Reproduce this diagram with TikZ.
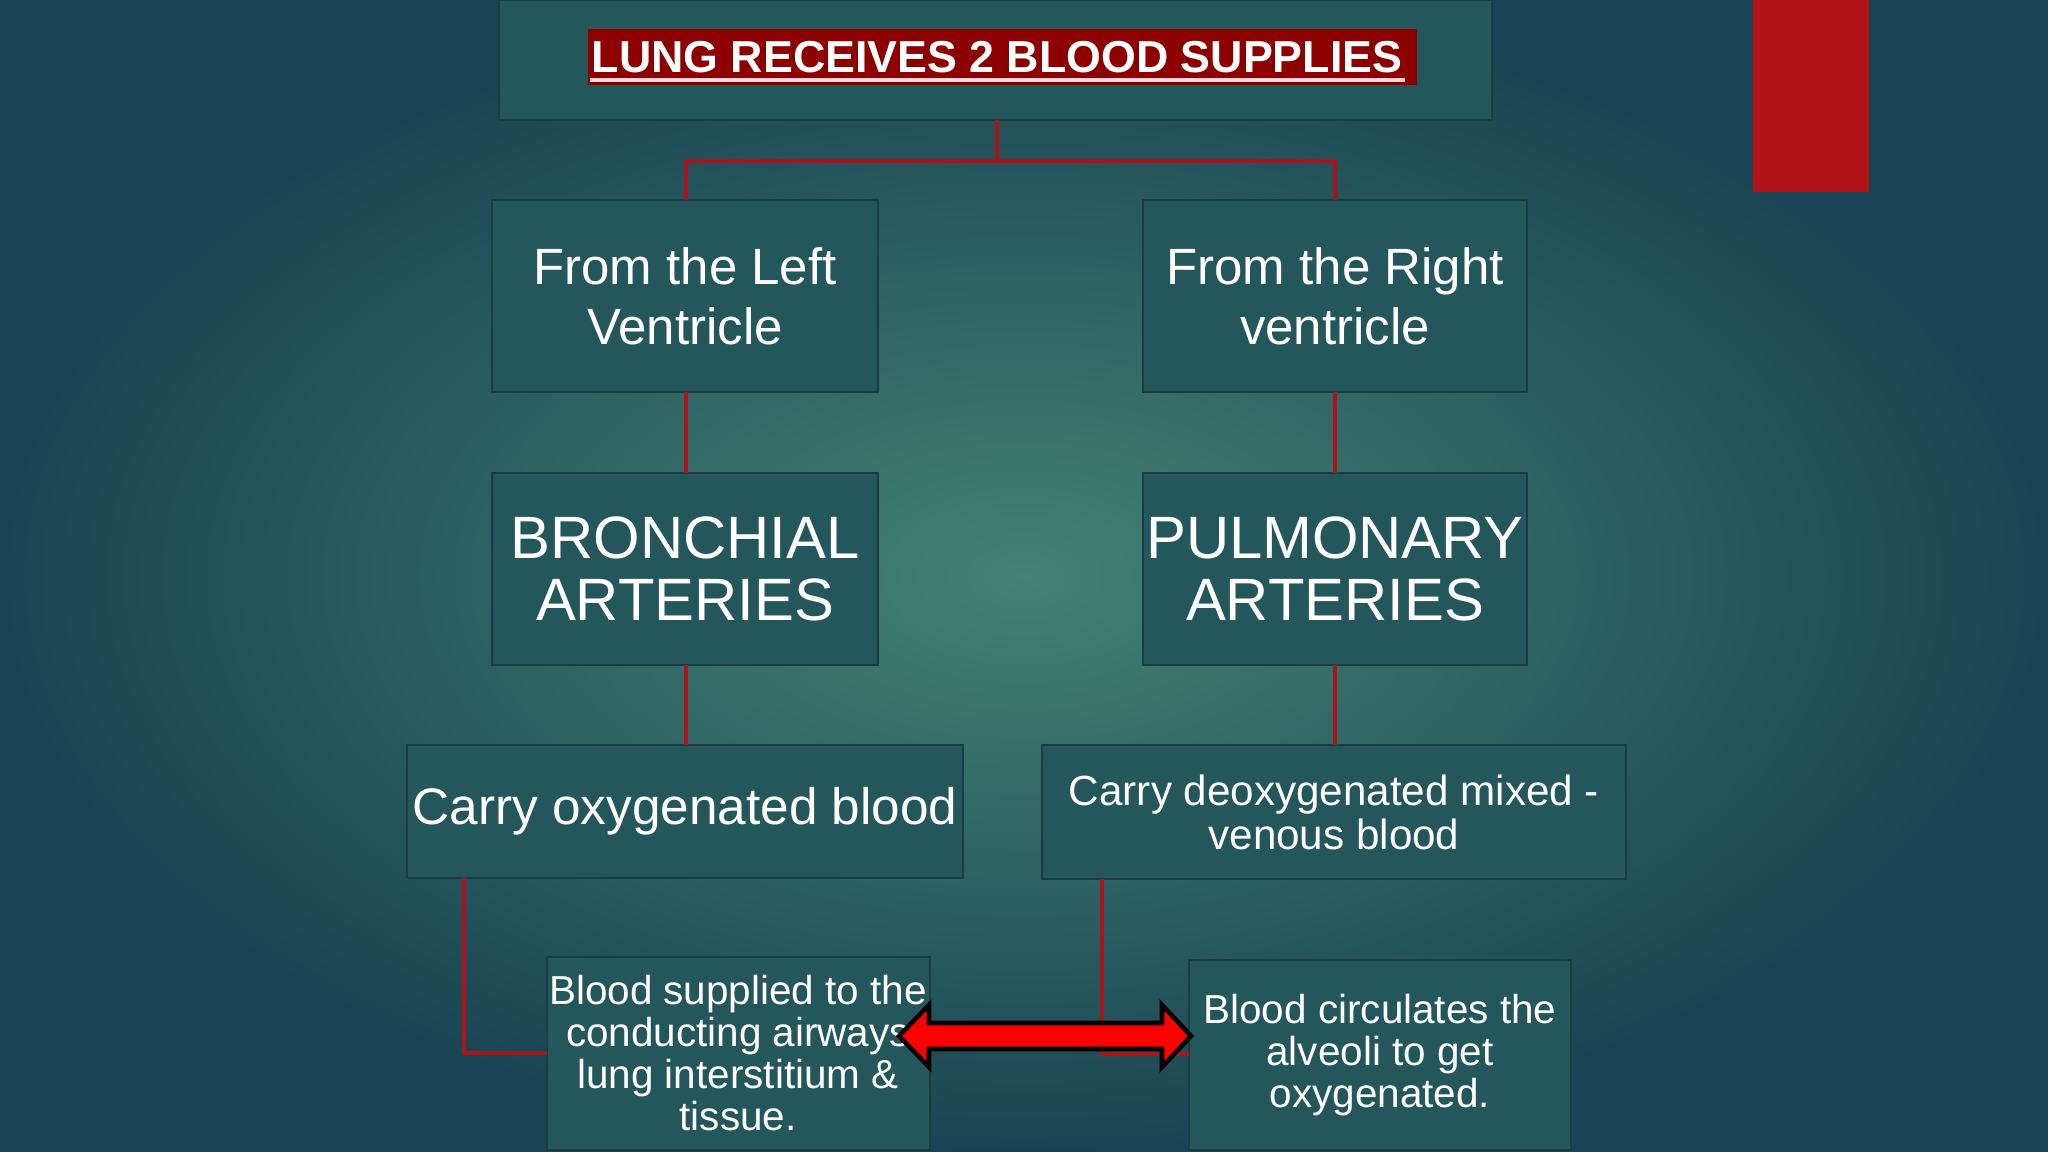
\documentclass[tikz,border=0pt]{standalone}
\usepackage{fontspec}
\setmainfont{Liberation Sans}
\definecolor{bgin}{HTML}{438274}
\definecolor{bgout}{HTML}{1A4453}
\definecolor{boxf}{HTML}{24575B}
\definecolor{boxd}{HTML}{1A3C42}
\definecolor{lnred}{HTML}{A8161B}
\begin{document}
\begin{tikzpicture}[x=0.01cm,y=-0.01cm,
  bx/.style={draw=boxd,fill=boxf,line width=0.6pt},
  tx/.style={text=white,align=center,inner sep=0pt},
  ln/.style={draw=lnred,line width=1.2pt}]
\useasboundingbox (0,0) rectangle (2048,1152);
\shade[inner color=bgin,outer color=bgout] (0,0) rectangle (2048,1152);
\fill[lnred!90!red] (1753,0) rectangle (1869,192);
% boxes
\draw[bx] (499,0) rectangle (1492,120);
\draw[bx] (492,200) rectangle (878,392);
\draw[bx] (1143,200) rectangle (1527,392);
\draw[bx] (492,473) rectangle (878,665);
\draw[bx] (1143,473) rectangle (1527,665);
\draw[bx] (407,745) rectangle (963,878);
\draw[bx] (1042,745) rectangle (1626,879);
\draw[bx] (547,957) rectangle (930,1150);
\draw[bx] (1189,960) rectangle (1571,1150);
% nodes
\fill[red!55!black] (588,29) rectangle (1417,85);
\node[tx,font=\bfseries\fontsize{12.5}{14}\selectfont] (title) at (997,57) {\resizebox{8.1cm}{!}{LUNG RECEIVES 2 BLOOD SUPPLIES}};
\fill[white!85!red] (590,78) rectangle (1405,82);
\coordinate (tb) at (997,120);
\node[tx,font=\fontsize{14.5}{17}\selectfont] (l1) at (685,296) {From the Left\\Ventricle};
\node[tx,font=\fontsize{14.5}{17}\selectfont] (r1) at (1335,296) {From the Right\\ventricle};
\node[tx,font=\fontsize{17}{17.5}\selectfont] (l2) at (685,569) {BRONCHIAL\\ARTERIES};
\node[tx,font=\fontsize{17}{17.5}\selectfont] (r2) at (1335,569) {PULMONARY\\ARTERIES};
\node[tx,font=\fontsize{14.6}{16}\selectfont] (l3) at (685,811) {Carry oxygenated blood};
\node[tx,font=\fontsize{12}{12.5}\selectfont] (r3) at (1334,812) {Carry deoxygenated mixed -\\venous blood};
\node[tx,font=\fontsize{11.5}{12}\selectfont] (l4) at (738,1053) {Blood supplied to the\\conducting airways\\lung interstitium \&\\tissue.};
\node[tx,font=\fontsize{11.5}{12}\selectfont] (r4) at (1380,1055) {Blood circulates the\\alveoli to get\\oxygenated.};
% connectors
\coordinate (jl) at (686,161); \coordinate (jr) at (1335,161);
\draw[ln] (tb) -- (997,161);
\draw[ln] (686,200) -- (jl) -- (jr) -- (1335,200);
\draw[ln] (686,392) -- (686,473);
\draw[ln] (1335,392) -- (1335,473);
\draw[ln] (686,665) -- (686,745);
\draw[ln] (1335,665) -- (1335,745);
\coordinate (a1) at (464,878); \coordinate (a2) at (464,1053);
\draw[ln] (a1) -- (a2) -- (547,1053);
\coordinate (b1) at (1102,879); \coordinate (b2) at (1102,1054);
\draw[ln] (b1) -- (b2) -- (1189,1054);
% double arrow
\draw[black,fill=red,line width=1.3pt,line join=miter]
  (899,1036) -- (929,1005) -- (929,1023) -- (1162,1023) -- (1162,1005) -- (1191,1036)
  -- (1162,1067) -- (1162,1049) -- (929,1049) -- (929,1067) -- cycle;
\end{tikzpicture}
\end{document}
